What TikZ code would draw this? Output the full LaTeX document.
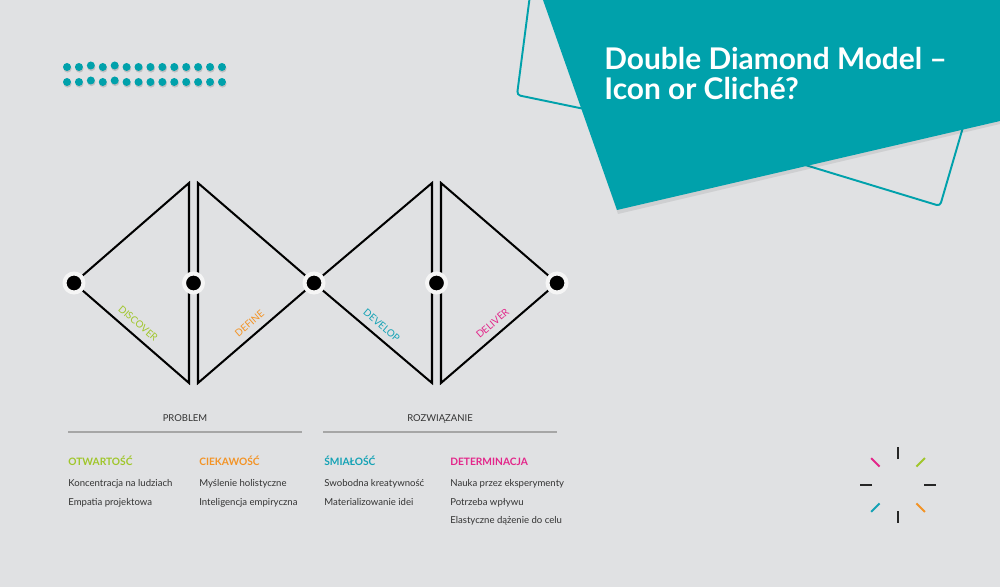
\documentclass[tikz,border=0pt]{standalone}
\usepackage{fontspec}
\setmainfont{Lato}
\usetikzlibrary{backgrounds}
\definecolor{bggray}{HTML}{E0E1E3}
\definecolor{ddteal}{HTML}{00A1AB}
\definecolor{ddlime}{HTML}{A0C62B}
\definecolor{ddorange}{HTML}{F39325}
\definecolor{ddblue}{HTML}{14A2B5}
\definecolor{ddpink}{HTML}{E3268A}
\definecolor{ddtext}{HTML}{333333}
\tikzset{
  phase/.style={circle, fill=black, draw=white!96!black, line width=2.3pt, minimum size=10.8pt, inner sep=0pt, outer sep=1.15pt},
  side/.style={line width=1.15pt, black},
  stage/.style={sloped, above=3pt, inner sep=1pt, font=\fontsize{5.6}{6}\selectfont},
  title/.style={anchor=base west, inner sep=0pt, text=white, font=\bfseries\fontsize{17}{18}\selectfont},
  section/.style={anchor=base, inner sep=0pt, text=ddtext, font=\fontsize{5.4}{6}\selectfont},
  head/.style={anchor=base west, inner sep=0pt, font=\bfseries\fontsize{5.8}{7}\selectfont},
  item/.style={anchor=base west, inner sep=0pt, text=ddtext, font=\fontsize{5.45}{6}\selectfont},
  rule/.style={line width=0.7pt, gray!70},
  tick/.style={line width=1.15pt, line cap=butt}
}
\begin{document}
\begin{tikzpicture}[x=0.02cm, y=-0.02cm]
\useasboundingbox (0,0) rectangle (1000,587);

\draw[ddteal, line width=1.1pt, rounded corners=2pt] (530,-5) -- (517,95) -- (700,133) -- (940,206) -- (968,110);
\fill[black, opacity=.08] (545,0) -- (1000,0) -- (1000,124) -- (618,214) -- cycle;
\fill[ddteal] (543,0) -- (1000,0) -- (1000,121) -- (617,210) -- cycle;
\node[title] (title1) at (604,70) {Double Diamond Model –};
\node[title] (title2) at (604,100) {Icon or Cliché?};

\foreach \i/\d in {0/0,1/0,2/-1.5,3/0,4/-1.5,5/0,6/0,7/0,8/0,9/0,10/0,11/0,12/0,13/0} {
  \fill[black, opacity=.15] (67+11.92*\i+0.6,67+\d+1.6) circle (4);
  \fill[black, opacity=.15] (67+11.92*\i+0.6,82+\d+1.6) circle (4);
  \fill[ddteal] (67+11.92*\i,67+\d) circle (4);
  \fill[ddteal] (67+11.92*\i,82+\d) circle (4);
}

\coordinate (t1) at (189,183); \coordinate (b1) at (189,383);
\coordinate (t2) at (198,183); \coordinate (b2) at (198,383);
\coordinate (t3) at (432,183); \coordinate (b3) at (432,383);
\coordinate (t4) at (441,183); \coordinate (b4) at (441,383);
\node[phase] (n1) at (74,283) {};
\node[phase] (n2) at (193.5,283) {};
\node[phase] (n3) at (314,283) {};
\node[phase] (n4) at (436.5,283) {};
\node[phase] (n5) at (557,283) {};

\begin{pgfonlayer}{background}
\fill[bggray] (0,0) rectangle (1000,587);
\draw[side] (n1) -- node[stage, text=ddlime, pos=.45] {DISCOVER} (b1) -- (t1) -- (n1);
\draw[side] (n3) -- (t2) -- (b2) -- node[stage, text=ddorange, pos=.55] {DEFINE} (n3);
\draw[side] (n3) -- node[stage, text=ddblue, pos=.47] {DEVELOP} (b3) -- (t3) -- (n3);
\draw[side] (n5) -- (t4) -- (b4) -- node[stage, text=ddpink, pos=.55] {DELIVER} (n5);
\end{pgfonlayer}

\node[section] (problem) at (185,421) {PROBLEM};
\node[section] (solution) at (440,421) {ROZWIĄZANIE};
\draw[rule] (68,432) -- (302,432);
\draw[rule] (323,432) -- (557,432);

\node[head, text=ddlime] (open) at (68,465) {OTWARTOŚĆ};
\node[item] (open1) at (68,486.5) {Koncentracja na ludziach};
\node[item] (open2) at (68,505) {Empatia projektowa};
\node[head, text=ddorange] (curious) at (199,465) {CIEKAWOŚĆ};
\node[item] (curious1) at (199,486.5) {Myślenie holistyczne};
\node[item] (curious2) at (199,505) {Inteligencja empiryczna};
\node[head, text=ddblue] (bold) at (324,465) {ŚMIAŁOŚĆ};
\node[item] (bold1) at (324,486.5) {Swobodna kreatywność};
\node[item] (bold2) at (324,505) {Materializowanie idei};
\node[head, text=ddpink] (drive) at (450,465) {DETERMINACJA};
\node[item] (drive1) at (450,486.5) {Nauka przez eksperymenty};
\node[item] (drive2) at (450,505) {Potrzeba wpływu};
\node[item] (drive3) at (450,523) {Elastyczne dążenie do celu};

\coordinate (icon) at (898,485);
\foreach \a/\c in {-90/black!85, -45/ddlime, 0/black!85, 45/ddorange, 90/black!85, 135/ddblue, 180/black!85, 225/ddpink}
  \draw[tick, \c] ([shift={(\a:26)}]icon) -- ([shift={(\a:38)}]icon);
\end{tikzpicture}
\end{document}
